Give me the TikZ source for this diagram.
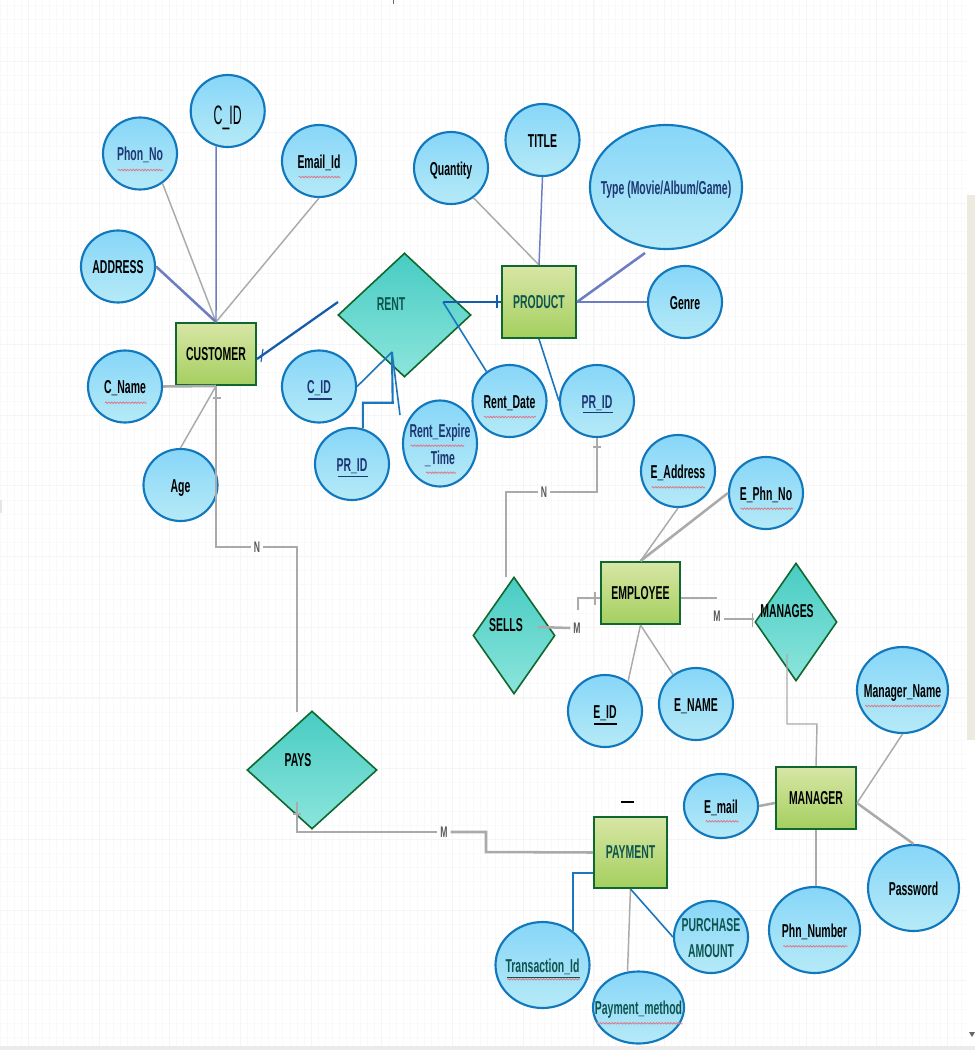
\documentclass[tikz,border=0pt]{standalone}
\usepackage{fontspec}
\setmainfont[FakeStretch=0.56]{Liberation Sans}
\usetikzlibrary{shapes.geometric,decorations.pathmorphing}
\definecolor{attribline}{RGB}{17,120,190}
\definecolor{entityline}{RGB}{15,104,46}
\definecolor{graylink}{RGB}{170,170,170}
\definecolor{bluelink}{RGB}{28,118,190}
\definecolor{darklink}{RGB}{22,92,172}
\definecolor{perilink}{RGB}{108,125,195}
\definecolor{navytext}{RGB}{30,55,115}
\definecolor{tealtext}{RGB}{14,85,80}
\definecolor{stripfill}{RGB}{237,234,224}
\tikzset{
	every picture/.style={line width=0.75pt},
	attrib/.style={ellipse,draw=attribline,line width=1.6pt,top color={rgb,255:red,135;green,214;blue,248},bottom color={rgb,255:red,182;green,234;blue,247},inner sep=0pt,minimum width=55.5pt,minimum height=54pt,font=\bfseries\fontsize{14}{15}\selectfont},
	attribwide/.style={attrib,minimum width=68.25pt,minimum height=64.5pt},
	entity/.style={rectangle,draw=entityline,line width=1.5pt,top color={rgb,255:red,216;green,230;blue,165},bottom color={rgb,255:red,164;green,207;blue,95},inner sep=0pt,font=\bfseries\fontsize{14}{15}\selectfont},
	relation/.style={diamond,draw=entityline,line width=1.2pt,top color={rgb,255:red,72;green,204;blue,195},bottom color={rgb,255:red,140;green,229;blue,220},inner sep=0pt},
	rellabel/.style={inner sep=0pt,font=\bfseries\fontsize{14}{15}\selectfont},
	cardlabel/.style={inner sep=2pt,text=black!65,font=\bfseries\fontsize{11.5}{13}\selectfont},
	graylk/.style={draw=graylink,line width=1.1pt},
	graythick/.style={draw=graylink,line width=1.9pt},
	bluelk/.style={draw=bluelink,line width=1.2pt},
	darklk/.style={draw=darklink,line width=1.7pt},
	perilk/.style={draw=perilink,line width=1.1pt},
	perithick/.style={draw=perilink,line width=1.9pt},
	squiggle/.style={draw={rgb,255:red,222;green,120;blue,135},line width=0.6pt,decorate,decoration={snake,amplitude=0.55pt,segment length=2.2pt}},
	keyline/.style={draw=navytext,line width=0.9pt},
	gridminor/.style={draw=black!2.5,line width=0.4pt},
	gridmajor/.style={draw=black!4,line width=0.6pt}
}
\newcommand{\attname}[1]{\makebox[0pt][c]{\raisebox{-5.5pt}[0pt][0pt]{#1}}}

\begin{document}
\begin{tikzpicture}[x=0.75pt,y=0.75pt,yscale=-1,xscale=1]
	\useasboundingbox (0,0) rectangle (975,1050);
	\fill[white] (0,0) rectangle (975,1050);

	%Grid
	\begin{scope}
	\clip (0,0) rectangle (966,1045);
	\draw[gridminor,shift={(28.2,61.5)}] (-30,-70) grid[xstep=7.07,ystep=14.14] (950,990);
	\draw[gridmajor,shift={(28.2,61.5)}] (-30,-70) grid[step=70.7] (950,990);
	\end{scope}
	\fill[black!8] (0,1046) rectangle (975,1050);
	\fill[stripfill] (967,195) rectangle (975,740);
	\fill[black!10] (0,500) rectangle (1.5,513);
	\fill[black!60] (969,1032) -- (975,1032) -- (972,1037) -- cycle;
	\draw[black!60,line width=0.5pt] (393,0) -- (393,4);

	%Entities
	\node[entity,minimum width=60pt,minimum height=46.5pt] (customer) at (216,354) {CUSTOMER};
	\node[entity,minimum width=55.5pt,minimum height=54pt,text=tealtext] (product) at (539,302) {PRODUCT};
	\node[entity,minimum width=59.25pt,minimum height=46.5pt] (employee) at (640.5,593) {EMPLOYEE};
	\node[entity,minimum width=60pt,minimum height=46.5pt] (manager) at (816,798) {MANAGER};
	\node[entity,minimum width=54.75pt,minimum height=53.25pt,text=tealtext] (payment) at (630.5,852.5) {PAYMENT};

	%Relations
	\node[relation,minimum width=99.75pt,minimum height=93pt] (rent) at (404.5,315) {};
	\node[relation,minimum width=61.5pt,minimum height=87.75pt] (sells) at (514,635.5) {};
	\node[relation,minimum width=61.5pt,minimum height=88.5pt] (manages) at (796,622) {};
	\node[relation,minimum width=97.5pt,minimum height=88.5pt] (pays) at (312,770) {};
	\node[rellabel,text=tealtext] (rentname) at (391,304) {RENT};
	\node[rellabel] (sellsname) at (506,625) {SELLS};
	\node[rellabel] (managesname) at (787,611) {MANAGES};
	\node[rellabel] (paysname) at (298,760) {PAYS};

	%Attributes
	\node[attrib,font=\fontsize{20}{22}\addfontfeature{FakeStretch=0.46}\selectfont] (cidtop) at (227.7,111) {\makebox[0pt][c]{\raisebox{-10pt}[0pt][0pt]{C\_ID}}};
	\node[attrib,text=navytext] (phonno) at (140,153.5) {\attname{Phon\_No}};
	\node[attrib] (emailid) at (319,161) {\attname{Email\_Id}};
	\node[attrib] (address) at (118,266.5) {\attname{ADDRESS}};
	\node[attrib] (cname) at (125,386.5) {\attname{C\_Name}};
	\node[attrib] (age) at (180.5,485) {\attname{Age}};
	\node[attrib,text=navytext] (cidrent) at (319,386.5) {\attname{C\_ID}};
	\node[attrib,text=navytext] (pridrent) at (352,464) {\attname{PR\_ID}};
	\node[attrib,minimum height=64.5pt,text=navytext,align=center] (rentexpire) at (440,443.5) {\attname{Rent\_Expire}\\[5pt]\attname{\_Time}};
	\node[attrib] (rentdate) at (509.5,401) {\attname{Rent\_Date}};
	\node[attrib] (quantity) at (451,168) {\attname{Quantity}};
	\node[attrib] (title) at (542.5,140) {\attname{TITLE}};
	\node[attrib,minimum width=114pt,minimum height=93pt,text=navytext] (type) at (666,187) {\attname{Type (Movie/Album/Game)}};
	\node[attrib] (genre) at (685,302) {\attname{Genre}};
	\node[attrib,text=navytext] (pridprod) at (597,401) {\attname{PR\_ID}};
	\node[attrib] (eaddress) at (678,471) {\attname{E\_Address}};
	\node[attrib] (ephnno) at (766,493) {\attname{E\_Phn\_No}};
	\node[attrib] (eid) at (605,711) {\attname{E\_ID}};
	\node[attrib] (ename) at (696,704) {\attname{E\_NAME}};
	\node[attribwide] (managername) at (902.5,690) {\attname{Manager\_Name}};
	\node[attrib,minimum height=48pt] (email) at (721,806) {\attname{E\_mail}};
	\node[attribwide] (password) at (913.5,888) {\attname{Password}};
	\node[attribwide] (phnnumber) at (814.5,930) {\attname{Phn\_Number}};
	\node[attrib,text=tealtext,align=center] (amount) at (711,937) {\attname{PURCHASE}\\[5pt]\attname{AMOUNT}};
	\node[attribwide,minimum width=70.5pt,text=tealtext] (transid) at (542.5,965) {\attname{Transaction\_Id}};
	\node[attribwide,minimum height=54pt,text=tealtext] (paymethod) at (638.5,1007.5) {\attname{Payment\_method}};

	%Cardinality labels
	\node[cardlabel] (npays) at (257,547) {N};
	\node[cardlabel] (mpays) at (444,832) {M};
	\node[cardlabel] (nsells) at (544,492) {N};
	\node[cardlabel] (msells) at (577,628) {M};
	\node[cardlabel] (mmanages) at (717,616) {M};

	%Free ends
	\coordinate (rentleft) at (338,302);
	\coordinate (rentin) at (443,302);
	\coordinate (rentlow) at (392,352);
	\coordinate (expireend) at (400,415);
	\coordinate (typeend) at (645,253);
	\coordinate (paystop) at (297,712);
	\coordinate (paysin) at (297,802);
	\coordinate (sellstop) at (506,577);
	\coordinate (sellsin) at (538,627);
	\coordinate (employeeend) at (717,598);
	\coordinate (managesin) at (787,654);

	%Customer links
	\draw[graylk] (phonno.-53) -- (customer.north);
	\draw[perilk] (cidtop.-108) -- (customer.north);
	\draw[graylk] (emailid.south) -- (customer.north);
	\draw[perithick] (address.east) -- (customer.north);
	\draw[graythick] (cname.east) -- (customer.south);
	\draw[graylk] (age.north) -- (customer.south);
	\draw[graylk] (customer.south) |- (npays.west);
	\draw[graylk] (npays.east) -| (paystop);
	\draw[graylk] (213,398) -- (221,398);
	\draw[darklk] (customer.-7) -- (rentleft);
	\draw[darklk,line width=0.8pt] (261,362) -- (263,349);

	%Rent links
	\draw[darklk] (rentin) -- (product.west);
	\draw[darklk] (497,295) -- (497,308);
	\draw[bluelk] (rentin) -- (rentdate.128);
	\draw[bluelk] (cidrent.east) -- (rentlow);
	\draw[bluelk,line width=1.6pt] (pridrent.73) |- (392.7,402.7) -- (rentlow);
	\draw[bluelk] (rentlow) -- (expireend);

	%Product links
	\draw[graylk] (quantity.-53) -- (product.north);
	\draw[perilk] (title.south) -- (product.north);
	\draw[perithick] (typeend) -- (product.east);
	\draw[perithick] (genre.west) -- (product.east);
	\draw[bluelk] (product.south) -- (pridprod.west);
	\draw[graylk] (pridprod.south) |- (nsells.east);
	\draw[graylk] (nsells.west) -| (sellstop);
	\draw[graylk] (593,447) -- (601,447);

	%Employee links
	\draw[graythick] (sellsin) -- (msells.west);
	\draw[graylk] (578,610) |- (employee.west |- 0,598);
	\draw[graylk] (595,592) -- (595,605);
	\draw[graythick] (employee.east |- 0,598) -- (employeeend);
	\draw[graythick] (mmanages.east |- 0,619) -- (manages.west |- 0,619);
	\draw[graylk] (752.7,613) -- (752.7,627);
	\draw[graylk] (eaddress.south) -- (employee.north);
	\draw[graythick] (ephnno.west) -- (employee.north);
	\draw[graylk] (eid.52) -- (employee.south);
	\draw[graylk] (ename.128) -- (employee.south);

	%Manager links
	\draw[graylk] (managesin) |- (817,724) -- (manager.north);
	\draw[graythick] (email.east) -- (manager.west |- 0,803);
	\draw[graylk] (managername.south) -- (manager.east |- 0,803);
	\draw[graythick] (password.north) -- (manager.east |- 0,803);
	\draw[graylk] (manager.south) -- (manager.south |- phnnumber.north);

	%Payment links
	\draw[graythick] (paysin) |- (mpays.west);
	\draw[graythick] (mpays.east) -| (486,852) -- (payment.west);
	\draw[graylk] (293,814) -- (301,814);
	\draw[bluelk,line width=1.6pt] (transid.48) |- (payment.209);
	\draw[graylk] (payment.south) -- (paymethod.107);
	\draw[bluelk] (payment.south) -- (amount.west);
	\draw[black,line width=0.9pt] (621,802) -- (634,802);

	%Squiggles
	\draw[squiggle] (117.7,170) -- (163.3,170);
	\draw[squiggle] (298.7,177) -- (340.7,177);
	\draw[squiggle] (105,402.7) -- (146.7,402.7);
	\draw[squiggle] (410.7,445.7) -- (464.3,445.7);
	\draw[squiggle] (426,472.7) -- (456,472.7);
	\draw[squiggle] (484,417) -- (535.7,417);
	\draw[squiggle] (651.7,487.3) -- (705,487.3);
	\draw[squiggle] (740.7,508.7) -- (793.3,508.7);
	\draw[squiggle] (865,706) -- (941,706);
	\draw[squiggle] (705.7,821.3) -- (738.7,821.3);
	\draw[squiggle] (783.3,946.3) -- (847.7,946.3);
	\draw[squiggle] (507.3,979.3) -- (580,979.3);
	\draw[squiggle] (596.7,1023.3) -- (682.3,1023.3);

	%Key underlines
	\draw[keyline] (308,399) -- (331.7,399);
	\draw[keyline] (337.7,476.7) -- (367.7,476.7);
	\draw[keyline] (582.7,412.7) -- (612.7,412.7);
	\draw[keyline,draw=black] (594,724) -- (616.7,724);
	\draw[keyline,draw=tealtext] (507.3,977.7) -- (580,977.7);
\end{tikzpicture}
\end{document}
